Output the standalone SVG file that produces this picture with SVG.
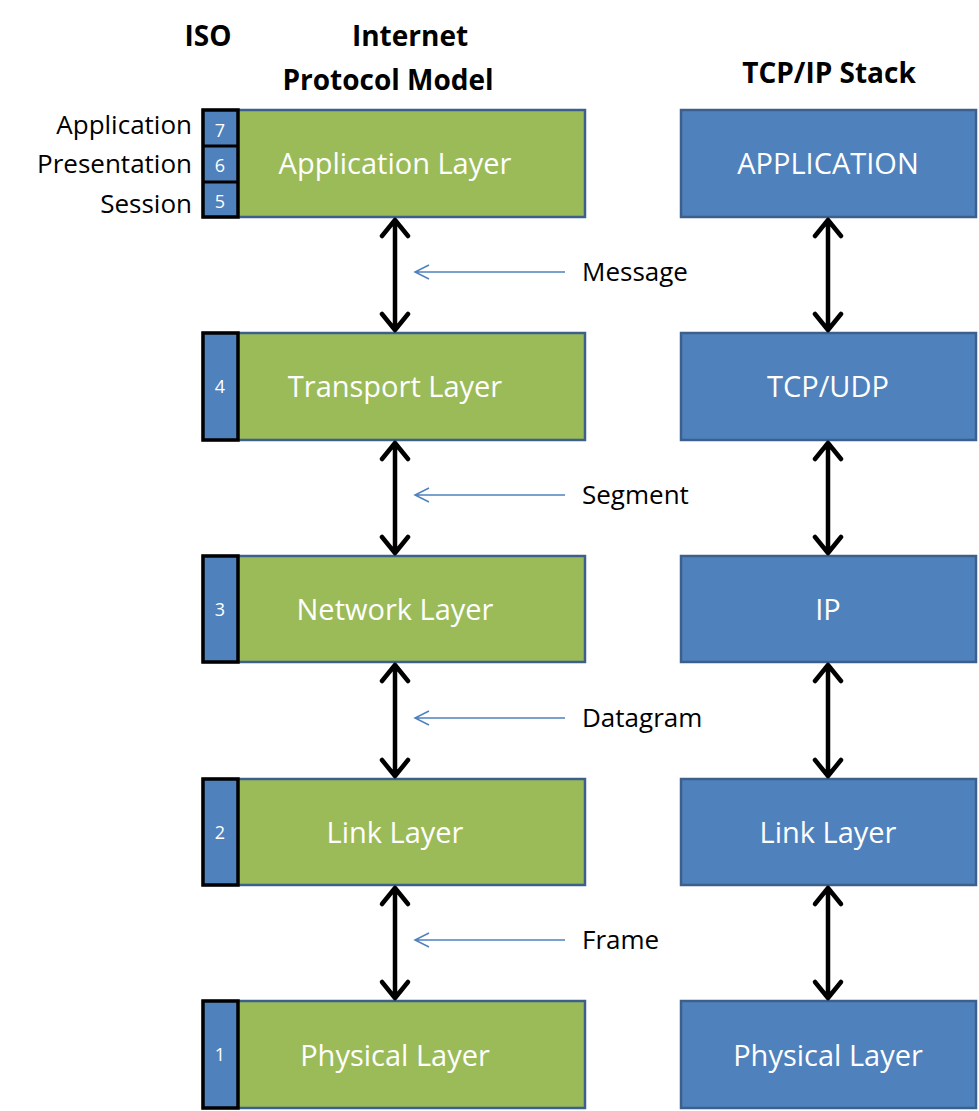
<svg xmlns="http://www.w3.org/2000/svg" width="979" height="1111" viewBox="0 0 979 1111">
<style>
.g{fill:#9bbb59;stroke:#3c5f8c;stroke-width:2.5}
.b{fill:#4f81bd;stroke:#3c5f8c;stroke-width:2.5}
.iso{fill:#4f81bd;stroke:#000;stroke-width:3.5}
.wt{font-family:"Open Sans","Liberation Sans",sans-serif;font-size:29px;fill:#fff;text-anchor:middle}
.nt{font-family:"Open Sans","Liberation Sans",sans-serif;font-size:18px;fill:#fff;text-anchor:middle}
.kt{font-family:"Open Sans","Liberation Sans",sans-serif;font-size:26px;fill:#000}
.ht{font-family:"Open Sans","Liberation Sans",sans-serif;font-size:28px;font-weight:bold;fill:#000;text-anchor:middle}
.ar{stroke:#000;stroke-width:4.5;fill:none;stroke-linecap:round;stroke-linejoin:round}
.la{stroke:#4f81bd;stroke-width:1.5;fill:none}
</style>
<g id="headers">
<text class="ht" x="208" y="46">ISO</text>
<text class="ht" x="410" y="46">Internet</text>
<text class="ht" x="388" y="90">Protocol Model</text>
<text class="ht" x="829" y="83">TCP/IP Stack</text>
</g>
<g id="iso-labels">
<text class="kt" x="192" y="134" text-anchor="end">Application</text>
<text class="kt" x="192" y="173" text-anchor="end">Presentation</text>
<text class="kt" x="192" y="213" text-anchor="end">Session</text>
</g>
<g id="app"><rect class="g" x="203" y="110" width="382" height="107"/><text class="wt" x="395" y="174">Application Layer</text></g>
<g id="iso765"><rect class="iso" x="203" y="110" width="35" height="107"/><line x1="203" y1="146" x2="238" y2="146" stroke="#000" stroke-width="3"/><line x1="203" y1="182" x2="238" y2="182" stroke="#000" stroke-width="3"/>
<text class="nt" x="220" y="137">7</text><text class="nt" x="220" y="172">6</text><text class="nt" x="220" y="208">5</text></g>
<g id="transport"><rect class="g" x="203" y="333" width="382" height="107"/><text class="wt" x="395" y="397">Transport Layer</text></g>
<g id="iso4"><rect class="iso" x="203" y="333" width="35" height="107"/><text class="nt" x="220" y="393">4</text></g>
<g id="network"><rect class="g" x="203" y="556" width="382" height="106"/><text class="wt" x="395" y="620">Network Layer</text></g>
<g id="iso3"><rect class="iso" x="203" y="556" width="35" height="106"/><text class="nt" x="220" y="616">3</text></g>
<g id="link"><rect class="g" x="203" y="779" width="382" height="106"/><text class="wt" x="395" y="843">Link Layer</text></g>
<g id="iso2"><rect class="iso" x="203" y="779" width="35" height="106"/><text class="nt" x="220" y="839">2</text></g>
<g id="physical"><rect class="g" x="203" y="1001" width="382" height="107"/><text class="wt" x="395" y="1066">Physical Layer</text></g>
<g id="iso1"><rect class="iso" x="203" y="1001" width="35" height="107"/><text class="nt" x="220" y="1061">1</text></g>
<g id="tcp-app"><rect class="b" x="681" y="110" width="295" height="107"/><text class="wt" x="828" y="174">APPLICATION</text></g>
<g id="tcp-tcpudp"><rect class="b" x="681" y="333" width="295" height="107"/><text class="wt" x="828" y="397">TCP/UDP</text></g>
<g id="tcp-ip"><rect class="b" x="681" y="556" width="295" height="106"/><text class="wt" x="828" y="620">IP</text></g>
<g id="tcp-link"><rect class="b" x="681" y="779" width="295" height="106"/><text class="wt" x="828" y="843">Link Layer</text></g>
<g id="tcp-phys"><rect class="b" x="681" y="1001" width="295" height="107"/><text class="wt" x="828" y="1066">Physical Layer</text></g>
<g id="connectors">
<path class="ar" d="M395 220V330M382 236L395 220L408 236M382 314L395 330L408 314"/>
<path class="ar" d="M395 443V553M382 459L395 443L408 459M382 537L395 553L408 537"/>
<path class="ar" d="M395 665V776M382 681L395 665L408 681M382 760L395 776L408 760"/>
<path class="ar" d="M395 888V998M382 904L395 888L408 904M382 982L395 998L408 982"/>
<path class="ar" d="M828 220V330M815 236L828 220L841 236M815 314L828 330L841 314"/>
<path class="ar" d="M828 443V553M815 459L828 443L841 459M815 537L828 553L841 537"/>
<path class="ar" d="M828 665V776M815 681L828 665L841 681M815 760L828 776L841 760"/>
<path class="ar" d="M828 888V998M815 904L828 888L841 904M815 982L828 998L841 982"/>
<path class="la" d="M565 272H415M429 265L415 272L429 279"/>
<path class="la" d="M565 495H415M429 488L415 495L429 502"/>
<path class="la" d="M565 718H415M429 711L415 718L429 725"/>
<path class="la" d="M565 940H415M429 933L415 940L429 947"/>
</g>
<g id="pdu-labels">
<text class="kt" x="582" y="281">Message</text>
<text class="kt" x="582" y="504">Segment</text>
<text class="kt" x="582" y="727">Datagram</text>
<text class="kt" x="582" y="949">Frame</text>
</g>
</svg>
